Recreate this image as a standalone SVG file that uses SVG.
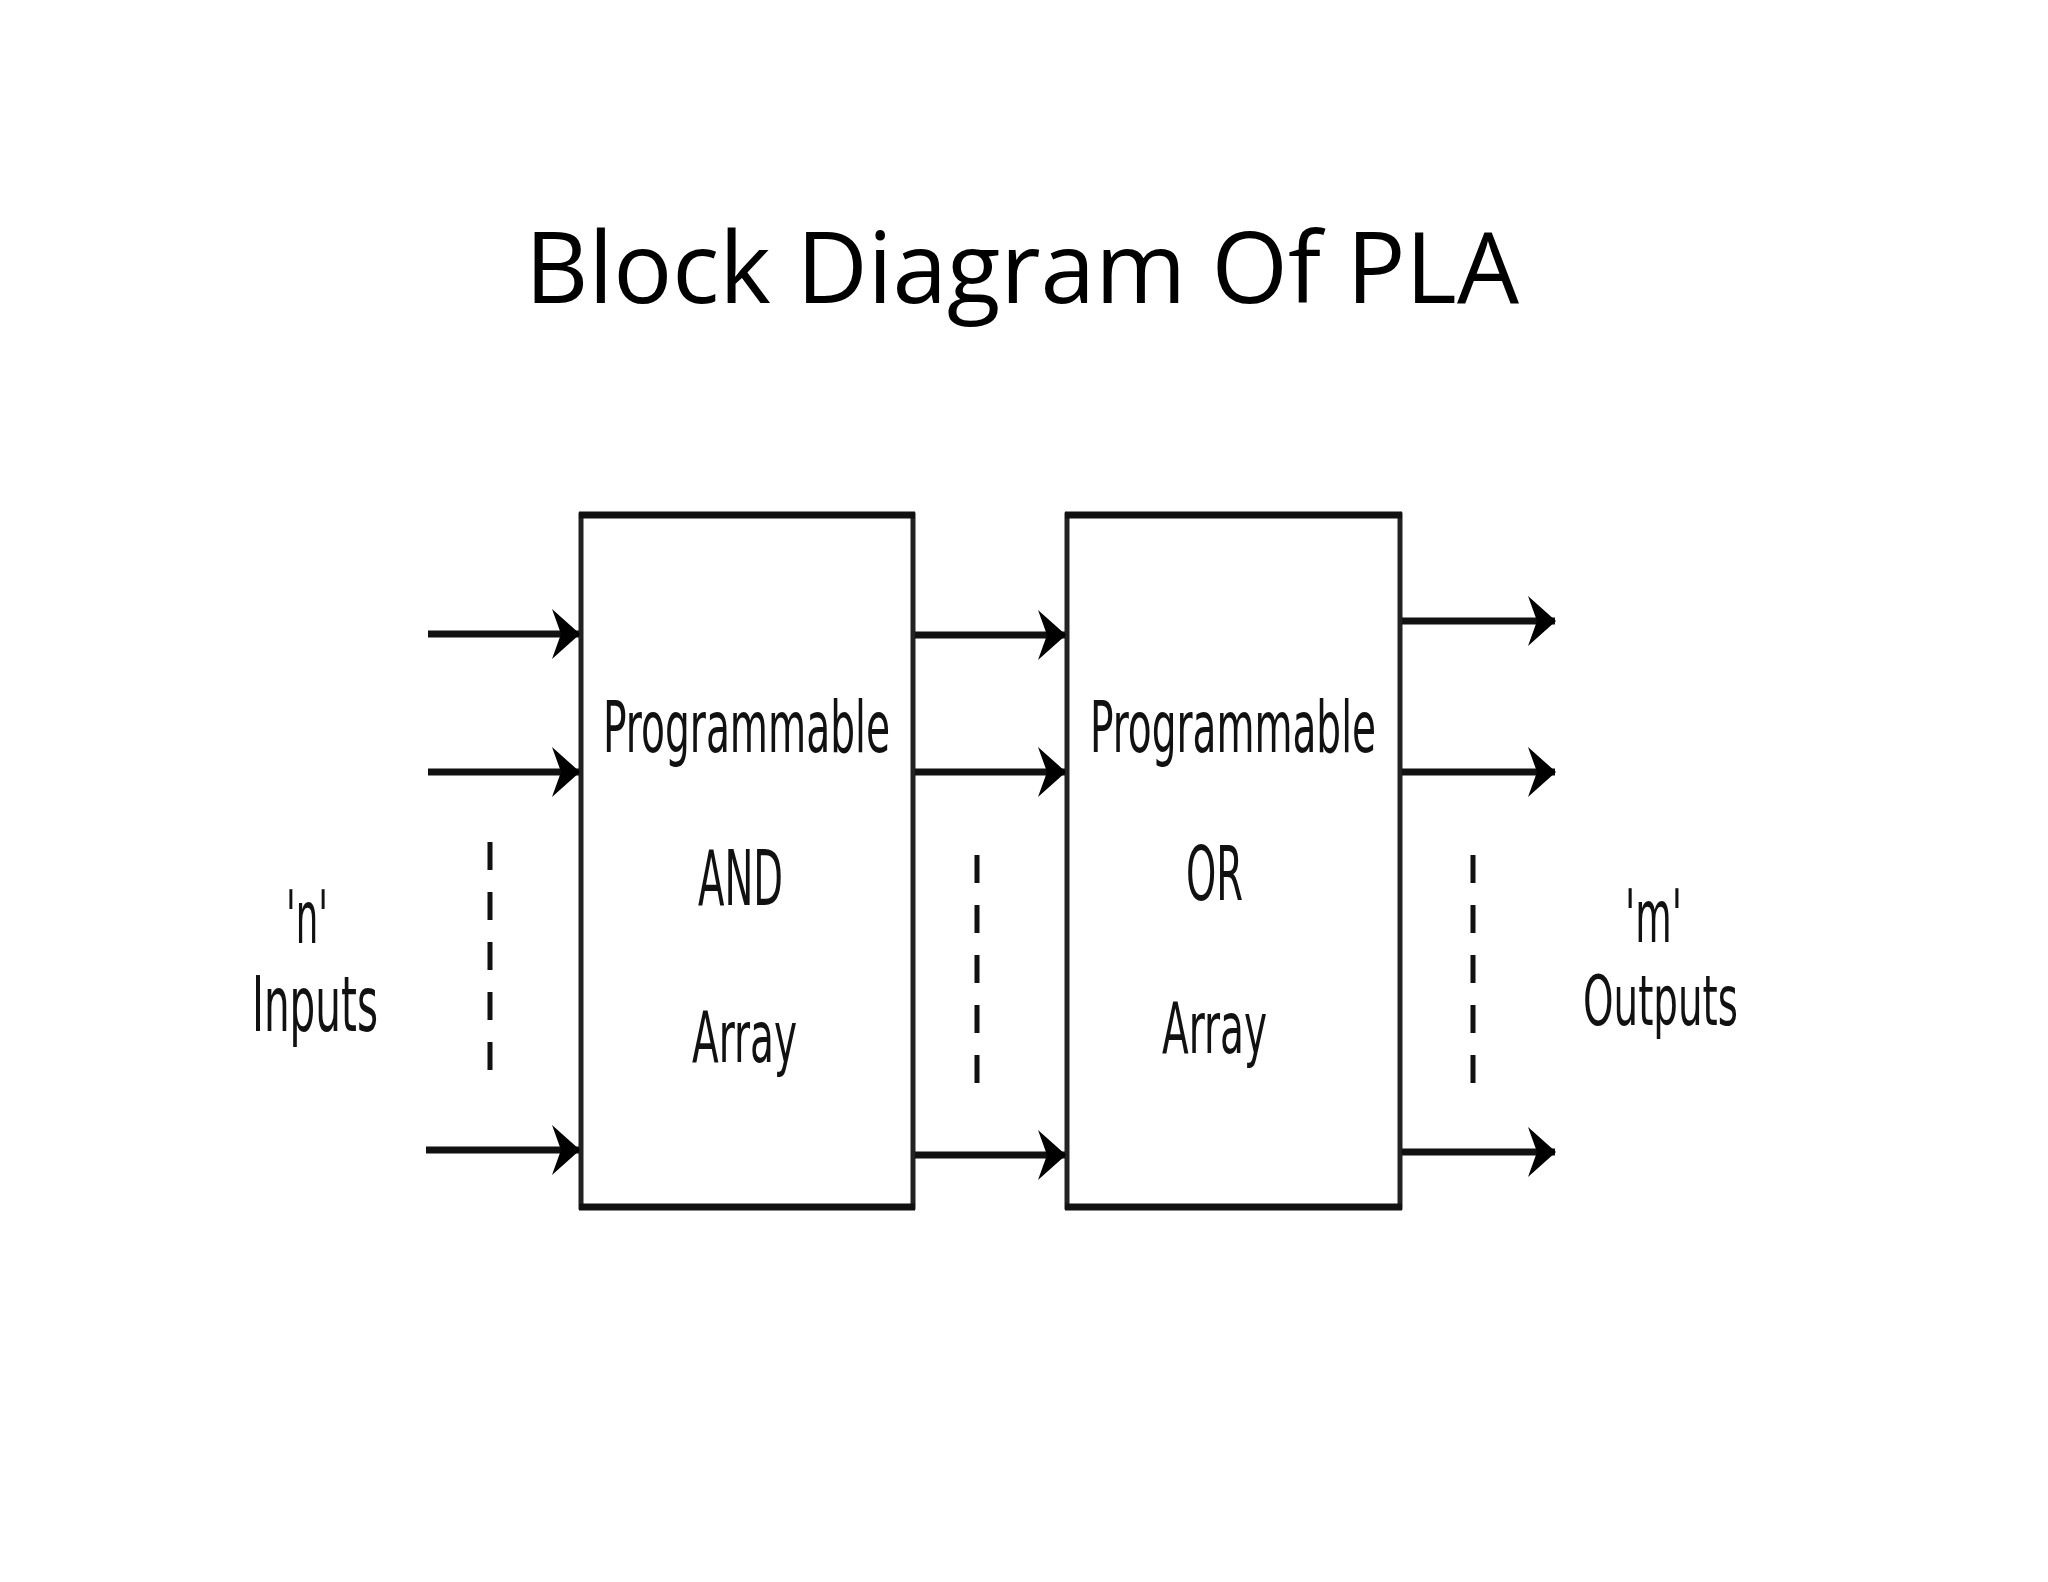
<svg xmlns="http://www.w3.org/2000/svg" width="2048" height="1582" viewBox="0 0 2048 1582">
<defs>
<marker id="arr" markerUnits="userSpaceOnUse" markerWidth="28" markerHeight="50" viewBox="0 0 28 50" refX="27" refY="25" orient="auto">
<path d="M0,0 L28,25 L0,50 L9,25 Z" fill="#000"/>
</marker>
<style>
.title{font-family:"Open Sans","Liberation Sans",sans-serif;font-size:98px;fill:#000}
.lbl{font-family:"DejaVu Sans Condensed","DejaVu Sans",sans-serif;fill:#111}
.box{fill:#fff;stroke:#222;stroke-width:5}
.edge{stroke:#111;stroke-width:7}
.wire{stroke:#111;stroke-width:7;fill:none;marker-end:url(#arr)}
.dash{stroke:#111;stroke-width:5;stroke-dasharray:28 22;fill:none}
</style>
</defs>
<rect width="2048" height="1582" fill="#fff"/>
<text class="title" x="525" y="303" textLength="994" lengthAdjust="spacingAndGlyphs">Block Diagram Of PLA</text>

<g id="and-array">
<rect class="box" x="581" y="515" width="332" height="692"/>
<line class="edge" x1="579" y1="515" x2="915" y2="515"/>
<line class="edge" x1="579" y1="1207" x2="915" y2="1207"/>
<text class="lbl" x="603" y="752" font-size="72" textLength="287" lengthAdjust="spacingAndGlyphs">Programmable</text>
<text class="lbl" x="698" y="905" font-size="77" textLength="85" lengthAdjust="spacingAndGlyphs">AND</text>
<text class="lbl" x="692" y="1062" font-size="72" textLength="105" lengthAdjust="spacingAndGlyphs">Array</text>
</g>

<g id="or-array">
<rect class="box" x="1067" y="515" width="333" height="692"/>
<line class="edge" x1="1065" y1="515" x2="1402" y2="515"/>
<line class="edge" x1="1065" y1="1207" x2="1402" y2="1207"/>
<text class="lbl" x="1090" y="752" font-size="72" textLength="286" lengthAdjust="spacingAndGlyphs">Programmable</text>
<text class="lbl" x="1186" y="900" font-size="75" textLength="57" lengthAdjust="spacingAndGlyphs">OR</text>
<text class="lbl" x="1162" y="1053" font-size="72" textLength="105" lengthAdjust="spacingAndGlyphs">Array</text>
</g>

<g id="inputs-label">
<text class="lbl" x="286" y="943" font-size="73" textLength="42" lengthAdjust="spacingAndGlyphs">'n'</text>
<text class="lbl" x="252" y="1031" font-size="77" textLength="126" lengthAdjust="spacingAndGlyphs">Inputs</text>
</g>

<g id="outputs-label">
<text class="lbl" x="1625" y="942" font-size="73" textLength="57" lengthAdjust="spacingAndGlyphs">'m'</text>
<text class="lbl" x="1583" y="1025" font-size="69" textLength="155" lengthAdjust="spacingAndGlyphs">Outputs</text>
</g>

<g id="connectors">
<line class="wire" x1="428" y1="634" x2="579" y2="634"/>
<line class="wire" x1="428" y1="772" x2="579" y2="772"/>
<line class="wire" x1="426" y1="1150" x2="579" y2="1150"/>
<line class="wire" x1="915" y1="635" x2="1065" y2="635"/>
<line class="wire" x1="915" y1="772" x2="1065" y2="772"/>
<line class="wire" x1="915" y1="1155" x2="1065" y2="1155"/>
<line class="wire" x1="1402" y1="621" x2="1555" y2="621"/>
<line class="wire" x1="1402" y1="772" x2="1555" y2="772"/>
<line class="wire" x1="1402" y1="1152" x2="1555" y2="1152"/>
<line class="dash" x1="490" y1="842" x2="490" y2="1072"/>
<line class="dash" x1="977" y1="855" x2="977" y2="1085"/>
<line class="dash" x1="1473" y1="855" x2="1473" y2="1085"/>
</g>
</svg>
